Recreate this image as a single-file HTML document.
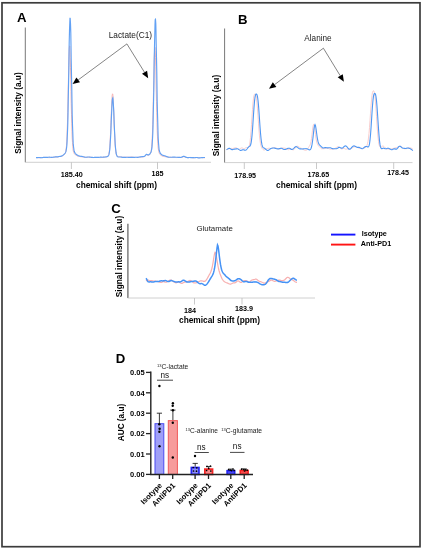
<!DOCTYPE html>
<html lang="en">
<head>
<meta charset="utf-8">
<title>Figure</title>
<style>
html,body{margin:0;padding:0;background:#fff;}
body{width:423px;height:550px;overflow:hidden;}
svg{display:block;font-family:"Liberation Sans",Arial,Helvetica,sans-serif;fill:#000;}
</style>
</head>
<body>
<svg width="423" height="550" viewBox="0 0 423 550">
<rect x="0" y="0" width="423" height="550" fill="#fff"/>
<rect x="2.0" y="2.8" width="418.0" height="543.9" fill="none" stroke="#3c3c3c" stroke-width="1.7"/>
<text x="16.9" y="22.1" text-anchor="start" font-size="13.2" font-weight="bold" >A</text>
<line x1="25.3" y1="27.5" x2="25.3" y2="162.3" stroke="#555" stroke-width="0.8"/>
<line x1="25.3" y1="162.3" x2="211" y2="162.3" stroke="#c4c4c4" stroke-width="0.8"/>
<line x1="71.4" y1="162.3" x2="71.4" y2="169" stroke="#bbb" stroke-width="0.8"/>
<line x1="157.5" y1="162.3" x2="157.5" y2="169" stroke="#bbb" stroke-width="0.8"/>
<path d="M36.0,157.6 L36.2,157.6 L36.5,157.6 L36.8,157.6 L37.0,157.6 L37.2,157.6 L37.5,157.6 L37.8,157.6 L38.0,157.6 L38.2,157.7 L38.5,157.7 L38.8,157.7 L39.0,157.7 L39.2,157.7 L39.5,157.8 L39.8,157.8 L40.0,157.8 L40.2,157.7 L40.5,157.7 L40.8,157.7 L41.0,157.7 L41.2,157.6 L41.5,157.6 L41.8,157.5 L42.0,157.5 L42.2,157.5 L42.5,157.5 L42.8,157.5 L43.0,157.5 L43.2,157.4 L43.5,157.4 L43.8,157.4 L44.0,157.4 L44.2,157.4 L44.5,157.4 L44.8,157.4 L45.0,157.4 L45.2,157.4 L45.5,157.4 L45.8,157.4 L46.0,157.4 L46.2,157.4 L46.5,157.4 L46.8,157.4 L47.0,157.4 L47.2,157.5 L47.5,157.5 L47.8,157.5 L48.0,157.5 L48.2,157.5 L48.5,157.6 L48.8,157.6 L49.0,157.6 L49.2,157.6 L49.5,157.6 L49.8,157.6 L50.0,157.5 L50.2,157.5 L50.5,157.5 L50.8,157.5 L51.0,157.4 L51.2,157.4 L51.5,157.4 L51.8,157.4 L52.0,157.4 L52.2,157.4 L52.5,157.4 L52.8,157.4 L53.0,157.4 L53.2,157.4 L53.5,157.3 L53.8,157.3 L54.0,157.2 L54.2,157.2 L54.5,157.1 L54.8,157.1 L55.0,157.1 L55.2,157.0 L55.5,157.0 L55.8,157.0 L56.0,157.0 L56.2,156.9 L56.5,156.9 L56.8,156.9 L57.0,156.9 L57.2,156.9 L57.5,156.9 L57.8,156.9 L58.0,156.8 L58.2,156.8 L58.5,156.7 L58.8,156.7 L59.0,156.6 L59.2,156.6 L59.5,156.5 L59.8,156.5 L60.0,156.4 L60.2,156.4 L60.5,156.4 L60.8,156.4 L61.0,156.3 L61.2,156.3 L61.5,156.3 L61.8,156.2 L62.0,156.1 L62.2,156.0 L62.5,155.9 L62.8,155.7 L63.0,155.5 L63.2,155.4 L63.5,155.2 L63.8,155.0 L64.0,154.7 L64.2,154.5 L64.5,154.3 L64.8,154.0 L65.0,153.6 L65.2,153.1 L65.5,152.5 L65.8,151.5 L66.0,150.2 L66.2,148.3 L66.5,145.7 L66.8,141.9 L67.0,136.9 L67.2,130.3 L67.5,122.1 L67.8,112.3 L68.0,101.2 L68.2,89.2 L68.5,77.0 L68.8,65.7 L69.0,56.1 L69.2,49.3 L69.5,45.9 L69.8,46.2 L70.0,50.3 L70.2,57.7 L70.5,67.7 L70.8,79.2 L71.0,91.4 L71.2,103.3 L71.5,114.2 L71.8,123.8 L72.0,131.6 L72.2,137.9 L72.5,142.6 L72.8,146.2 L73.0,148.7 L73.2,150.5 L73.5,151.7 L73.8,152.5 L74.0,153.1 L74.2,153.6 L74.5,153.9 L74.8,154.2 L75.0,154.4 L75.2,154.6 L75.5,154.8 L75.8,154.9 L76.0,155.1 L76.2,155.3 L76.5,155.5 L76.8,155.6 L77.0,155.8 L77.2,155.9 L77.5,156.0 L77.8,156.1 L78.0,156.1 L78.2,156.2 L78.5,156.3 L78.8,156.3 L79.0,156.4 L79.2,156.4 L79.5,156.5 L79.8,156.5 L80.0,156.6 L80.2,156.6 L80.5,156.7 L80.8,156.7 L81.0,156.8 L81.2,156.8 L81.5,156.8 L81.8,156.9 L82.0,156.9 L82.2,156.9 L82.5,156.9 L82.8,157.0 L83.0,157.0 L83.2,157.0 L83.5,157.0 L83.8,157.0 L84.0,157.1 L84.2,157.1 L84.5,157.1 L84.8,157.2 L85.0,157.2 L85.2,157.2 L85.5,157.3 L85.8,157.3 L86.0,157.4 L86.2,157.4 L86.5,157.4 L86.8,157.4 L87.0,157.4 L87.2,157.4 L87.5,157.4 L87.8,157.3 L88.0,157.3 L88.2,157.3 L88.5,157.3 L88.8,157.3 L89.0,157.3 L89.2,157.2 L89.5,157.2 L89.8,157.2 L90.0,157.2 L90.2,157.2 L90.5,157.2 L90.8,157.3 L91.0,157.3 L91.2,157.3 L91.5,157.4 L91.8,157.4 L92.0,157.5 L92.2,157.5 L92.5,157.6 L92.8,157.6 L93.0,157.7 L93.2,157.7 L93.5,157.6 L93.8,157.6 L94.0,157.6 L94.2,157.6 L94.5,157.5 L94.8,157.5 L95.0,157.5 L95.2,157.4 L95.5,157.4 L95.8,157.4 L96.0,157.4 L96.2,157.4 L96.5,157.4 L96.8,157.4 L97.0,157.4 L97.2,157.4 L97.5,157.4 L97.8,157.4 L98.0,157.4 L98.2,157.4 L98.5,157.4 L98.8,157.4 L99.0,157.4 L99.2,157.5 L99.5,157.5 L99.8,157.6 L100.0,157.6 L100.2,157.6 L100.5,157.6 L100.8,157.6 L101.0,157.6 L101.2,157.6 L101.5,157.5 L101.8,157.4 L102.0,157.4 L102.2,157.3 L102.5,157.3 L102.8,157.2 L103.0,157.2 L103.2,157.2 L103.5,157.2 L103.8,157.2 L104.0,157.2 L104.2,157.2 L104.5,157.2 L104.8,157.2 L105.0,157.1 L105.2,157.1 L105.5,157.0 L105.8,157.0 L106.0,156.9 L106.2,156.9 L106.5,156.8 L106.8,156.8 L107.0,156.7 L107.2,156.6 L107.5,156.5 L107.8,156.3 L108.0,156.1 L108.2,155.8 L108.5,155.3 L108.8,154.6 L109.0,153.5 L109.2,152.0 L109.5,150.0 L109.8,147.3 L110.0,143.9 L110.2,139.6 L110.5,134.4 L110.8,128.5 L111.0,122.1 L111.2,115.4 L111.5,108.9 L111.8,103.1 L112.0,98.4 L112.2,95.2 L112.5,93.8 L112.8,94.3 L113.0,96.8 L113.2,100.9 L113.5,106.3 L113.8,112.6 L114.0,119.2 L114.2,125.8 L114.5,131.9 L114.8,137.4 L115.0,142.0 L115.2,145.9 L115.5,148.9 L115.8,151.1 L116.0,152.8 L116.2,154.0 L116.5,154.9 L116.8,155.4 L117.0,155.8 L117.2,156.1 L117.5,156.3 L117.8,156.4 L118.0,156.5 L118.2,156.5 L118.5,156.6 L118.8,156.6 L119.0,156.7 L119.2,156.7 L119.5,156.7 L119.8,156.7 L120.0,156.8 L120.2,156.8 L120.5,156.8 L120.8,156.9 L121.0,156.9 L121.2,157.0 L121.5,157.0 L121.8,157.1 L122.0,157.1 L122.2,157.1 L122.5,157.2 L122.8,157.2 L123.0,157.2 L123.2,157.2 L123.5,157.2 L123.8,157.2 L124.0,157.2 L124.2,157.2 L124.5,157.2 L124.8,157.2 L125.0,157.2 L125.2,157.2 L125.5,157.2 L125.8,157.2 L126.0,157.2 L126.2,157.2 L126.5,157.2 L126.8,157.2 L127.0,157.2 L127.2,157.2 L127.5,157.2 L127.8,157.2 L128.0,157.2 L128.2,157.2 L128.5,157.2 L128.8,157.2 L129.0,157.2 L129.2,157.2 L129.5,157.2 L129.8,157.2 L130.0,157.2 L130.2,157.2 L130.5,157.1 L130.8,157.1 L131.0,157.1 L131.2,157.0 L131.5,157.0 L131.8,157.0 L132.0,157.0 L132.2,157.1 L132.5,157.1 L132.8,157.1 L133.0,157.2 L133.2,157.2 L133.5,157.3 L133.8,157.3 L134.0,157.3 L134.2,157.4 L134.5,157.4 L134.8,157.4 L135.0,157.4 L135.2,157.4 L135.5,157.3 L135.8,157.3 L136.0,157.3 L136.2,157.3 L136.5,157.3 L136.8,157.3 L137.0,157.3 L137.2,157.3 L137.5,157.3 L137.8,157.3 L138.0,157.3 L138.2,157.3 L138.5,157.3 L138.8,157.3 L139.0,157.3 L139.2,157.3 L139.5,157.3 L139.8,157.2 L140.0,157.2 L140.2,157.2 L140.5,157.1 L140.8,157.1 L141.0,157.1 L141.2,157.0 L141.5,157.0 L141.8,157.0 L142.0,157.0 L142.2,157.0 L142.5,156.9 L142.8,156.9 L143.0,156.9 L143.2,156.9 L143.5,156.8 L143.8,156.8 L144.0,156.8 L144.2,156.7 L144.5,156.6 L144.8,156.4 L145.0,156.2 L145.2,155.9 L145.5,155.6 L145.8,155.3 L146.0,155.1 L146.2,154.9 L146.5,154.7 L146.8,154.7 L147.0,154.8 L147.2,154.9 L147.5,155.1 L147.8,155.2 L148.0,155.3 L148.2,155.4 L148.5,155.3 L148.8,155.2 L149.0,155.1 L149.2,154.9 L149.5,154.7 L149.8,154.4 L150.0,154.1 L150.2,153.7 L150.5,153.3 L150.8,152.6 L151.0,151.8 L151.2,150.6 L151.5,148.8 L151.8,146.4 L152.0,142.9 L152.2,138.2 L152.5,132.1 L152.8,124.3 L153.0,114.9 L153.2,104.1 L153.5,92.4 L153.8,80.4 L154.0,69.0 L154.2,59.1 L154.5,51.8 L154.8,47.7 L155.0,47.4 L155.2,50.7 L155.5,57.4 L155.8,66.8 L156.0,78.0 L156.2,89.9 L156.5,101.7 L156.8,112.7 L157.0,122.4 L157.2,130.4 L157.5,136.9 L157.8,141.9 L158.0,145.6 L158.2,148.2 L158.5,150.1 L158.8,151.5 L159.0,152.4 L159.2,153.1 L159.5,153.6 L159.8,154.0 L160.0,154.4 L160.2,154.6 L160.5,154.9 L160.8,155.1 L161.0,155.3 L161.2,155.5 L161.5,155.7 L161.8,155.8 L162.0,156.0 L162.2,156.1 L162.5,156.2 L162.8,156.3 L163.0,156.4 L163.2,156.4 L163.5,156.5 L163.8,156.5 L164.0,156.5 L164.2,156.6 L164.5,156.6 L164.8,156.6 L165.0,156.7 L165.2,156.7 L165.5,156.8 L165.8,156.8 L166.0,156.9 L166.2,156.9 L166.5,157.0 L166.8,157.0 L167.0,157.0 L167.2,157.1 L167.5,157.1 L167.8,157.1 L168.0,157.2 L168.2,157.2 L168.5,157.2 L168.8,157.2 L169.0,157.2 L169.2,157.2 L169.5,157.2 L169.8,157.2 L170.0,157.2 L170.2,157.2 L170.5,157.2 L170.8,157.3 L171.0,157.3 L171.2,157.3 L171.5,157.4 L171.8,157.4 L172.0,157.4 L172.2,157.4 L172.5,157.5 L172.8,157.5 L173.0,157.5 L173.2,157.5 L173.5,157.5 L173.8,157.5 L174.0,157.5 L174.2,157.5 L174.5,157.5 L174.8,157.5 L175.0,157.5 L175.2,157.5 L175.5,157.5 L175.8,157.5 L176.0,157.5 L176.2,157.5 L176.5,157.5 L176.8,157.5 L177.0,157.4 L177.2,157.4 L177.5,157.4 L177.8,157.4 L178.0,157.4 L178.2,157.4 L178.5,157.4 L178.8,157.4 L179.0,157.4 L179.2,157.4 L179.5,157.4 L179.8,157.4 L180.0,157.4 L180.2,157.4 L180.5,157.4 L180.8,157.4 L181.0,157.4 L181.2,157.4 L181.5,157.4 L181.8,157.3 L182.0,157.3 L182.2,157.2 L182.5,157.1 L182.8,157.0 L183.0,156.9 L183.2,156.8 L183.5,156.7 L183.8,156.7 L184.0,156.6 L184.2,156.7 L184.5,156.7 L184.8,156.8 L185.0,156.9 L185.2,157.0 L185.5,157.2 L185.8,157.2 L186.0,157.3 L186.2,157.4 L186.5,157.4 L186.8,157.5 L187.0,157.5 L187.2,157.5 L187.5,157.6 L187.8,157.6 L188.0,157.6 L188.2,157.6 L188.5,157.6 L188.8,157.6 L189.0,157.6 L189.2,157.5 L189.5,157.5 L189.8,157.5 L190.0,157.4 L190.2,157.4 L190.5,157.4 L190.8,157.4 L191.0,157.4 L191.2,157.5 L191.5,157.5 L191.8,157.6 L192.0,157.6 L192.2,157.7 L192.5,157.7 L192.8,157.8 L193.0,157.8 L193.2,157.8 L193.5,157.8 L193.8,157.8 L194.0,157.7 L194.2,157.7 L194.5,157.7 L194.8,157.6 L195.0,157.6 L195.2,157.6 L195.5,157.6 L195.8,157.5 L196.0,157.5 L196.2,157.5 L196.5,157.6 L196.8,157.6 L197.0,157.6 L197.2,157.6 L197.5,157.6 L197.8,157.6 L198.0,157.6 L198.2,157.6 L198.5,157.6 L198.8,157.6 L199.0,157.6 L199.2,157.6 L199.5,157.6 L199.8,157.6 L200.0,157.6 L200.2,157.6 L200.5,157.6 L200.8,157.5 L201.0,157.5 L201.2,157.5 L201.5,157.5 L201.8,157.5 L202.0,157.5 L202.2,157.5 L202.5,157.6 L202.8,157.6 L203.0,157.6 L203.2,157.7 L203.5,157.7 L203.8,157.7 L204.0,157.7 L204.2,157.8 L204.5,157.8 L204.8,157.8 L205.0,157.8" fill="none" stroke="#f7b6b6" stroke-width="1"/>
<path d="M36.0,157.6 L36.2,157.6 L36.5,157.6 L36.8,157.6 L37.0,157.6 L37.2,157.6 L37.5,157.6 L37.8,157.6 L38.0,157.6 L38.2,157.5 L38.5,157.5 L38.8,157.5 L39.0,157.5 L39.2,157.5 L39.5,157.5 L39.8,157.5 L40.0,157.6 L40.2,157.6 L40.5,157.6 L40.8,157.7 L41.0,157.7 L41.2,157.7 L41.5,157.7 L41.8,157.6 L42.0,157.6 L42.2,157.6 L42.5,157.6 L42.8,157.5 L43.0,157.5 L43.2,157.5 L43.5,157.4 L43.8,157.4 L44.0,157.4 L44.2,157.4 L44.5,157.3 L44.8,157.3 L45.0,157.3 L45.2,157.3 L45.5,157.3 L45.8,157.4 L46.0,157.4 L46.2,157.4 L46.5,157.4 L46.8,157.3 L47.0,157.3 L47.2,157.3 L47.5,157.3 L47.8,157.3 L48.0,157.2 L48.2,157.2 L48.5,157.2 L48.8,157.2 L49.0,157.1 L49.2,157.1 L49.5,157.1 L49.8,157.2 L50.0,157.2 L50.2,157.2 L50.5,157.2 L50.8,157.2 L51.0,157.3 L51.2,157.3 L51.5,157.3 L51.8,157.3 L52.0,157.3 L52.2,157.3 L52.5,157.2 L52.8,157.2 L53.0,157.2 L53.2,157.2 L53.5,157.1 L53.8,157.1 L54.0,157.1 L54.2,157.1 L54.5,157.0 L54.8,157.0 L55.0,157.0 L55.2,156.9 L55.5,156.9 L55.8,156.9 L56.0,156.9 L56.2,156.9 L56.5,156.9 L56.8,156.9 L57.0,156.8 L57.2,156.8 L57.5,156.8 L57.8,156.8 L58.0,156.7 L58.2,156.7 L58.5,156.6 L58.8,156.6 L59.0,156.5 L59.2,156.5 L59.5,156.5 L59.8,156.4 L60.0,156.4 L60.2,156.4 L60.5,156.3 L60.8,156.3 L61.0,156.2 L61.2,156.1 L61.5,156.1 L61.8,156.0 L62.0,155.8 L62.2,155.7 L62.5,155.6 L62.8,155.4 L63.0,155.2 L63.2,155.1 L63.5,154.9 L63.8,154.6 L64.0,154.4 L64.2,154.2 L64.5,153.9 L64.8,153.6 L65.0,153.3 L65.2,153.0 L65.5,152.5 L65.8,151.9 L66.0,151.1 L66.2,150.0 L66.5,148.3 L66.8,146.0 L67.0,142.6 L67.2,137.9 L67.5,131.6 L67.8,123.4 L68.0,113.1 L68.2,100.8 L68.5,86.9 L68.8,71.8 L69.0,56.7 L69.2,42.6 L69.5,30.7 L69.8,22.2 L70.0,17.9 L70.2,18.4 L70.5,23.6 L70.8,32.8 L71.0,45.3 L71.2,59.7 L71.5,74.9 L71.8,89.8 L72.0,103.5 L72.2,115.3 L72.5,125.2 L72.8,133.0 L73.0,139.0 L73.2,143.4 L73.5,146.5 L73.8,148.7 L74.0,150.3 L74.2,151.3 L74.5,152.1 L74.8,152.6 L75.0,153.1 L75.2,153.4 L75.5,153.7 L75.8,153.9 L76.0,154.2 L76.2,154.4 L76.5,154.6 L76.8,154.8 L77.0,155.0 L77.2,155.1 L77.5,155.3 L77.8,155.4 L78.0,155.5 L78.2,155.7 L78.5,155.8 L78.8,155.9 L79.0,155.9 L79.2,156.0 L79.5,156.1 L79.8,156.1 L80.0,156.1 L80.2,156.2 L80.5,156.2 L80.8,156.3 L81.0,156.3 L81.2,156.3 L81.5,156.4 L81.8,156.4 L82.0,156.4 L82.2,156.5 L82.5,156.5 L82.8,156.6 L83.0,156.7 L83.2,156.7 L83.5,156.8 L83.8,156.9 L84.0,157.0 L84.2,157.0 L84.5,157.1 L84.8,157.1 L85.0,157.2 L85.2,157.2 L85.5,157.2 L85.8,157.2 L86.0,157.2 L86.2,157.2 L86.5,157.2 L86.8,157.1 L87.0,157.1 L87.2,157.1 L87.5,157.0 L87.8,157.0 L88.0,157.0 L88.2,157.0 L88.5,157.0 L88.8,157.0 L89.0,157.0 L89.2,157.0 L89.5,157.1 L89.8,157.1 L90.0,157.1 L90.2,157.2 L90.5,157.2 L90.8,157.2 L91.0,157.2 L91.2,157.3 L91.5,157.3 L91.8,157.3 L92.0,157.4 L92.2,157.4 L92.5,157.4 L92.8,157.5 L93.0,157.5 L93.2,157.5 L93.5,157.5 L93.8,157.5 L94.0,157.5 L94.2,157.4 L94.5,157.4 L94.8,157.4 L95.0,157.4 L95.2,157.4 L95.5,157.4 L95.8,157.4 L96.0,157.4 L96.2,157.4 L96.5,157.3 L96.8,157.3 L97.0,157.3 L97.2,157.3 L97.5,157.3 L97.8,157.3 L98.0,157.3 L98.2,157.3 L98.5,157.3 L98.8,157.3 L99.0,157.3 L99.2,157.2 L99.5,157.2 L99.8,157.2 L100.0,157.2 L100.2,157.1 L100.5,157.1 L100.8,157.1 L101.0,157.1 L101.2,157.1 L101.5,157.1 L101.8,157.2 L102.0,157.2 L102.2,157.2 L102.5,157.2 L102.8,157.2 L103.0,157.2 L103.2,157.1 L103.5,157.1 L103.8,157.1 L104.0,157.1 L104.2,157.1 L104.5,157.0 L104.8,157.0 L105.0,157.0 L105.2,157.0 L105.5,157.0 L105.8,156.9 L106.0,156.9 L106.2,156.9 L106.5,156.8 L106.8,156.7 L107.0,156.7 L107.2,156.6 L107.5,156.5 L107.8,156.3 L108.0,156.2 L108.2,155.9 L108.5,155.5 L108.8,155.0 L109.0,154.2 L109.2,153.1 L109.5,151.5 L109.8,149.4 L110.0,146.6 L110.2,143.0 L110.5,138.6 L110.8,133.5 L111.0,127.8 L111.2,121.6 L111.5,115.4 L111.8,109.6 L112.0,104.6 L112.2,100.7 L112.5,98.5 L112.8,98.0 L113.0,99.3 L113.2,102.3 L113.5,106.7 L113.8,112.1 L114.0,118.1 L114.2,124.3 L114.5,130.3 L114.8,135.7 L115.0,140.5 L115.2,144.5 L115.5,147.7 L115.8,150.2 L116.0,152.2 L116.2,153.6 L116.5,154.6 L116.8,155.4 L117.0,155.9 L117.2,156.3 L117.5,156.6 L117.8,156.8 L118.0,156.9 L118.2,157.0 L118.5,157.0 L118.8,157.0 L119.0,157.0 L119.2,157.0 L119.5,157.0 L119.8,157.0 L120.0,157.0 L120.2,157.0 L120.5,157.0 L120.8,157.0 L121.0,157.0 L121.2,157.1 L121.5,157.1 L121.8,157.1 L122.0,157.2 L122.2,157.2 L122.5,157.3 L122.8,157.3 L123.0,157.3 L123.2,157.3 L123.5,157.4 L123.8,157.4 L124.0,157.4 L124.2,157.4 L124.5,157.4 L124.8,157.4 L125.0,157.4 L125.2,157.3 L125.5,157.3 L125.8,157.3 L126.0,157.3 L126.2,157.2 L126.5,157.2 L126.8,157.2 L127.0,157.2 L127.2,157.2 L127.5,157.2 L127.8,157.2 L128.0,157.3 L128.2,157.3 L128.5,157.3 L128.8,157.4 L129.0,157.4 L129.2,157.4 L129.5,157.4 L129.8,157.4 L130.0,157.4 L130.2,157.4 L130.5,157.4 L130.8,157.4 L131.0,157.4 L131.2,157.4 L131.5,157.4 L131.8,157.4 L132.0,157.3 L132.2,157.3 L132.5,157.3 L132.8,157.3 L133.0,157.3 L133.2,157.3 L133.5,157.3 L133.8,157.3 L134.0,157.3 L134.2,157.3 L134.5,157.3 L134.8,157.3 L135.0,157.2 L135.2,157.2 L135.5,157.2 L135.8,157.2 L136.0,157.2 L136.2,157.2 L136.5,157.2 L136.8,157.2 L137.0,157.3 L137.2,157.3 L137.5,157.3 L137.8,157.3 L138.0,157.3 L138.2,157.2 L138.5,157.2 L138.8,157.1 L139.0,157.1 L139.2,157.0 L139.5,157.0 L139.8,157.0 L140.0,156.9 L140.2,156.9 L140.5,156.8 L140.8,156.8 L141.0,156.8 L141.2,156.7 L141.5,156.7 L141.8,156.6 L142.0,156.6 L142.2,156.6 L142.5,156.6 L142.8,156.6 L143.0,156.6 L143.2,156.6 L143.5,156.5 L143.8,156.5 L144.0,156.5 L144.2,156.4 L144.5,156.3 L144.8,156.1 L145.0,155.9 L145.2,155.6 L145.5,155.3 L145.8,155.0 L146.0,154.7 L146.2,154.5 L146.5,154.4 L146.8,154.4 L147.0,154.5 L147.2,154.6 L147.5,154.8 L147.8,154.9 L148.0,155.0 L148.2,155.0 L148.5,154.9 L148.8,154.8 L149.0,154.7 L149.2,154.5 L149.5,154.2 L149.8,154.0 L150.0,153.7 L150.2,153.3 L150.5,153.0 L150.8,152.5 L151.0,152.0 L151.2,151.3 L151.5,150.2 L151.8,148.7 L152.0,146.6 L152.2,143.5 L152.5,139.2 L152.8,133.3 L153.0,125.6 L153.2,115.8 L153.5,104.1 L153.8,90.5 L154.0,75.8 L154.2,60.7 L154.5,46.4 L154.8,34.1 L155.0,24.9 L155.2,19.8 L155.5,19.4 L155.8,23.6 L156.0,32.1 L156.2,43.9 L156.5,57.9 L156.8,73.0 L157.0,87.9 L157.2,101.7 L157.5,113.8 L157.8,124.0 L158.0,132.1 L158.2,138.3 L158.5,142.9 L158.8,146.3 L159.0,148.6 L159.2,150.2 L159.5,151.3 L159.8,152.1 L160.0,152.6 L160.2,153.1 L160.5,153.5 L160.8,153.8 L161.0,154.0 L161.2,154.3 L161.5,154.5 L161.8,154.7 L162.0,154.9 L162.2,155.0 L162.5,155.2 L162.8,155.3 L163.0,155.4 L163.2,155.4 L163.5,155.5 L163.8,155.6 L164.0,155.6 L164.2,155.7 L164.5,155.8 L164.8,155.9 L165.0,155.9 L165.2,156.0 L165.5,156.1 L165.8,156.2 L166.0,156.3 L166.2,156.4 L166.5,156.5 L166.8,156.6 L167.0,156.7 L167.2,156.8 L167.5,156.9 L167.8,156.9 L168.0,157.0 L168.2,157.1 L168.5,157.1 L168.8,157.2 L169.0,157.2 L169.2,157.2 L169.5,157.2 L169.8,157.2 L170.0,157.2 L170.2,157.2 L170.5,157.2 L170.8,157.2 L171.0,157.2 L171.2,157.2 L171.5,157.2 L171.8,157.2 L172.0,157.2 L172.2,157.2 L172.5,157.1 L172.8,157.1 L173.0,157.1 L173.2,157.1 L173.5,157.1 L173.8,157.0 L174.0,157.1 L174.2,157.1 L174.5,157.1 L174.8,157.1 L175.0,157.1 L175.2,157.1 L175.5,157.2 L175.8,157.2 L176.0,157.2 L176.2,157.2 L176.5,157.2 L176.8,157.2 L177.0,157.2 L177.2,157.2 L177.5,157.2 L177.8,157.3 L178.0,157.3 L178.2,157.3 L178.5,157.3 L178.8,157.3 L179.0,157.4 L179.2,157.4 L179.5,157.4 L179.8,157.4 L180.0,157.5 L180.2,157.5 L180.5,157.5 L180.8,157.4 L181.0,157.4 L181.2,157.3 L181.5,157.2 L181.8,157.2 L182.0,157.0 L182.2,156.9 L182.5,156.8 L182.8,156.6 L183.0,156.5 L183.2,156.4 L183.5,156.4 L183.8,156.4 L184.0,156.4 L184.2,156.4 L184.5,156.5 L184.8,156.6 L185.0,156.8 L185.2,156.9 L185.5,157.0 L185.8,157.1 L186.0,157.3 L186.2,157.3 L186.5,157.4 L186.8,157.5 L187.0,157.5 L187.2,157.6 L187.5,157.6 L187.8,157.6 L188.0,157.6 L188.2,157.6 L188.5,157.6 L188.8,157.6 L189.0,157.5 L189.2,157.5 L189.5,157.5 L189.8,157.5 L190.0,157.5 L190.2,157.5 L190.5,157.6 L190.8,157.6 L191.0,157.6 L191.2,157.6 L191.5,157.6 L191.8,157.6 L192.0,157.6 L192.2,157.6 L192.5,157.6 L192.8,157.6 L193.0,157.6 L193.2,157.6 L193.5,157.6 L193.8,157.6 L194.0,157.7 L194.2,157.7 L194.5,157.7 L194.8,157.7 L195.0,157.6 L195.2,157.6 L195.5,157.6 L195.8,157.5 L196.0,157.5 L196.2,157.5 L196.5,157.5 L196.8,157.5 L197.0,157.5 L197.2,157.5 L197.5,157.6 L197.8,157.7 L198.0,157.7 L198.2,157.8 L198.5,157.8 L198.8,157.8 L199.0,157.8 L199.2,157.8 L199.5,157.8 L199.8,157.8 L200.0,157.8 L200.2,157.7 L200.5,157.7 L200.8,157.7 L201.0,157.7 L201.2,157.7 L201.5,157.6 L201.8,157.6 L202.0,157.6 L202.2,157.6 L202.5,157.6 L202.8,157.6 L203.0,157.6 L203.2,157.5 L203.5,157.5 L203.8,157.5 L204.0,157.5 L204.2,157.5 L204.5,157.5 L204.8,157.5 L205.0,157.5" fill="none" stroke="#62a1f4" stroke-width="1.15"/>
<text transform="translate(20.8,113) rotate(-90)" text-anchor="middle" font-size="8.33" font-weight="bold">Signal intensity (a.u)</text>
<text x="71.8" y="177.2" text-anchor="middle" font-size="7.2" font-weight="bold" >185.40</text>
<text x="157.5" y="176.2" text-anchor="middle" font-size="7.2" font-weight="bold" >185</text>
<text x="116.5" y="188" text-anchor="middle" font-size="8.33" font-weight="bold" >chemical shift (ppm)</text>
<text x="130.4" y="37.5" text-anchor="middle" font-size="8.3" font-weight="normal" fill="#222">Lactate(C1)</text>
<line x1="126.9" y1="43.9" x2="78.2" y2="79.9" stroke="#333" stroke-width="0.6"/><polygon points="72.6,84.1 76.4,77.5 80.0,82.3" fill="#000"/>
<line x1="126.9" y1="43.9" x2="144.5" y2="72.3" stroke="#333" stroke-width="0.6"/><polygon points="148.2,78.2 142.0,73.8 147.1,70.7" fill="#000"/>
<text x="238.0" y="24.2" text-anchor="start" font-size="13.2" font-weight="bold" >B</text>
<line x1="224.6" y1="28.5" x2="224.6" y2="162.6" stroke="#555" stroke-width="0.8"/>
<line x1="224.6" y1="162.6" x2="412.5" y2="162.6" stroke="#c4c4c4" stroke-width="0.8"/>
<line x1="244.3" y1="162.6" x2="244.3" y2="169" stroke="#bbb" stroke-width="0.8"/>
<line x1="316.5" y1="162.6" x2="316.5" y2="169" stroke="#bbb" stroke-width="0.8"/>
<line x1="393.7" y1="162.6" x2="393.7" y2="169" stroke="#bbb" stroke-width="0.8"/>
<path d="M226.5,149.5 L227.0,149.3 L227.5,149.1 L228.0,148.9 L228.5,148.9 L229.0,148.8 L229.5,148.7 L230.0,148.6 L230.5,148.5 L231.0,148.4 L231.5,148.4 L232.0,148.5 L232.5,148.5 L233.0,148.4 L233.5,148.3 L234.0,148.2 L234.5,148.0 L235.0,147.8 L235.5,147.7 L236.0,147.7 L236.5,147.9 L237.0,148.3 L237.5,148.8 L238.0,149.3 L238.5,149.5 L239.0,149.4 L239.5,149.2 L240.0,148.8 L240.5,148.4 L241.0,148.0 L241.5,147.9 L242.0,147.9 L242.5,148.1 L243.0,148.3 L243.5,148.6 L244.0,148.7 L244.5,148.6 L245.0,148.3 L245.5,147.9 L246.0,147.7 L246.5,147.5 L247.0,147.5 L247.5,147.5 L248.0,147.6 L248.5,147.3 L249.0,146.6 L249.5,145.0 L250.0,142.1 L250.5,137.7 L251.0,131.8 L251.5,124.6 L252.0,116.9 L252.5,109.5 L253.0,103.1 L253.5,98.3 L254.0,95.4 L254.5,94.2 L255.0,94.0 L255.5,94.3 L256.0,95.6 L256.5,98.4 L257.0,102.8 L257.5,108.8 L258.0,115.8 L258.5,123.2 L259.0,130.1 L259.5,135.9 L260.0,140.4 L260.5,143.6 L261.0,145.8 L261.5,147.2 L262.0,148.3 L262.5,149.0 L263.0,149.5 L263.5,149.8 L264.0,149.9 L264.5,149.9 L265.0,149.7 L265.5,149.4 L266.0,149.1 L266.5,148.8 L267.0,148.6 L267.5,148.5 L268.0,148.4 L268.5,148.3 L269.0,148.2 L269.5,148.3 L270.0,148.4 L270.5,148.5 L271.0,148.5 L271.5,148.5 L272.0,148.4 L272.5,148.2 L273.0,148.0 L273.5,147.8 L274.0,147.7 L274.5,147.7 L275.0,147.8 L275.5,147.9 L276.0,148.0 L276.5,148.1 L277.0,148.3 L277.5,148.5 L278.0,148.7 L278.5,148.8 L279.0,148.9 L279.5,148.9 L280.0,148.9 L280.5,148.8 L281.0,148.5 L281.5,148.2 L282.0,148.0 L282.5,147.9 L283.0,148.0 L283.5,148.0 L284.0,148.1 L284.5,148.1 L285.0,148.2 L285.5,148.3 L286.0,148.5 L286.5,148.8 L287.0,149.1 L287.5,149.4 L288.0,149.6 L288.5,149.7 L289.0,149.6 L289.5,149.4 L290.0,149.1 L290.5,149.0 L291.0,149.1 L291.5,149.3 L292.0,149.5 L292.5,149.7 L293.0,149.8 L293.5,149.8 L294.0,149.5 L294.5,148.9 L295.0,148.2 L295.5,147.4 L296.0,146.8 L296.5,146.4 L297.0,146.2 L297.5,146.2 L298.0,146.4 L298.5,146.6 L299.0,147.0 L299.5,147.3 L300.0,147.7 L300.5,148.0 L301.0,148.2 L301.5,148.4 L302.0,148.8 L302.5,149.1 L303.0,149.4 L303.5,149.6 L304.0,149.9 L304.5,150.1 L305.0,150.3 L305.5,150.4 L306.0,150.4 L306.5,150.1 L307.0,149.7 L307.5,149.0 L308.0,148.3 L308.5,147.5 L309.0,146.7 L309.5,146.0 L310.0,145.1 L310.5,143.8 L311.0,141.7 L311.5,138.6 L312.0,134.6 L312.5,130.2 L313.0,126.4 L313.5,124.4 L314.0,124.5 L314.5,126.8 L315.0,130.4 L315.5,134.5 L316.0,138.2 L316.5,141.0 L317.0,142.9 L317.5,144.2 L318.0,145.1 L318.5,145.8 L319.0,146.4 L319.5,146.9 L320.0,147.4 L320.5,147.9 L321.0,148.3 L321.5,148.7 L322.0,148.8 L322.5,148.7 L323.0,148.7 L323.5,148.7 L324.0,148.7 L324.5,148.6 L325.0,148.6 L325.5,148.5 L326.0,148.5 L326.5,148.4 L327.0,148.4 L327.5,148.4 L328.0,148.4 L328.5,148.5 L329.0,148.7 L329.5,148.9 L330.0,149.1 L330.5,149.1 L331.0,149.1 L331.5,149.1 L332.0,149.1 L332.5,149.2 L333.0,149.2 L333.5,149.1 L334.0,148.9 L334.5,148.6 L335.0,148.3 L335.5,148.1 L336.0,147.7 L336.5,147.4 L337.0,147.1 L337.5,146.8 L338.0,146.8 L338.5,146.9 L339.0,147.1 L339.5,147.5 L340.0,147.9 L340.5,148.3 L341.0,148.7 L341.5,148.9 L342.0,148.9 L342.5,148.7 L343.0,148.5 L343.5,148.4 L344.0,148.4 L344.5,148.6 L345.0,148.8 L345.5,149.1 L346.0,149.2 L346.5,149.1 L347.0,149.0 L347.5,148.9 L348.0,148.8 L348.5,148.7 L349.0,148.6 L349.5,148.6 L350.0,148.6 L350.5,148.6 L351.0,148.6 L351.5,148.4 L352.0,148.1 L352.5,147.7 L353.0,147.4 L353.5,147.1 L354.0,146.9 L354.5,146.8 L355.0,146.7 L355.5,146.7 L356.0,146.8 L356.5,147.0 L357.0,147.3 L357.5,147.5 L358.0,147.8 L358.5,148.0 L359.0,148.2 L359.5,148.3 L360.0,148.4 L360.5,148.4 L361.0,148.3 L361.5,148.3 L362.0,148.4 L362.5,148.4 L363.0,148.4 L363.5,148.3 L364.0,148.2 L364.5,148.0 L365.0,147.8 L365.5,147.5 L366.0,147.0 L366.5,146.3 L367.0,145.3 L367.5,143.8 L368.0,141.5 L368.5,138.1 L369.0,133.5 L369.5,127.6 L370.0,120.6 L370.5,113.2 L371.0,106.1 L371.5,99.9 L372.0,95.3 L372.5,92.4 L373.0,91.1 L373.5,90.8 L374.0,91.2 L374.5,93.0 L375.0,96.5 L375.5,101.9 L376.0,108.7 L376.5,116.3 L377.0,124.0 L377.5,131.1 L378.0,137.0 L378.5,141.4 L379.0,144.3 L379.5,146.1 L380.0,146.9 L380.5,147.2 L381.0,147.0 L381.5,146.8 L382.0,146.4 L382.5,146.1 L383.0,146.0 L383.5,146.2 L384.0,146.5 L384.5,147.0 L385.0,147.5 L385.5,148.0 L386.0,148.4 L386.5,148.8 L387.0,148.9 L387.5,149.0 L388.0,149.1 L388.5,149.1 L389.0,149.1 L389.5,149.1 L390.0,149.1 L390.5,149.0 L391.0,148.9 L391.5,148.8 L392.0,148.7 L392.5,148.6 L393.0,148.6 L393.5,148.4 L394.0,148.2 L394.5,148.1 L395.0,147.9 L395.5,147.7 L396.0,147.6 L396.5,147.5 L397.0,147.4 L397.5,147.3 L398.0,147.1 L398.5,146.9 L399.0,146.6 L399.5,146.3 L400.0,146.1 L400.5,146.2 L401.0,146.5 L401.5,146.9 L402.0,147.3 L402.5,147.8 L403.0,148.2 L403.5,148.4 L404.0,148.6 L404.5,148.7 L405.0,148.7 L405.5,148.7 L406.0,148.7 L406.5,148.6 L407.0,148.4 L407.5,148.3 L408.0,148.1 L408.5,147.9 L409.0,147.8 L409.5,147.7 L410.0,147.7 L410.5,147.9 L411.0,148.1 L411.5,148.3 L412.0,148.7 L412.5,149.0 L413.0,149.4" fill="none" stroke="#f9cccc" stroke-width="1"/>
<path d="M226.5,149.7 L227.0,149.4 L227.5,149.1 L228.0,148.7 L228.5,148.5 L229.0,148.4 L229.5,148.4 L230.0,148.6 L230.5,148.9 L231.0,149.2 L231.5,149.5 L232.0,149.6 L232.5,149.6 L233.0,149.5 L233.5,149.3 L234.0,149.2 L234.5,149.1 L235.0,149.1 L235.5,149.0 L236.0,148.9 L236.5,148.9 L237.0,148.8 L237.5,148.8 L238.0,148.9 L238.5,149.2 L239.0,149.6 L239.5,149.9 L240.0,150.2 L240.5,150.4 L241.0,150.4 L241.5,150.3 L242.0,150.1 L242.5,149.9 L243.0,149.8 L243.5,149.8 L244.0,149.9 L244.5,150.1 L245.0,150.2 L245.5,150.2 L246.0,150.0 L246.5,149.6 L247.0,149.0 L247.5,148.3 L248.0,147.6 L248.5,147.1 L249.0,146.6 L249.5,146.3 L250.0,146.0 L250.5,145.2 L251.0,143.5 L251.5,140.4 L252.0,135.8 L252.5,129.6 L253.0,122.2 L253.5,114.6 L254.0,107.4 L254.5,101.5 L255.0,97.3 L255.5,94.9 L256.0,94.1 L256.5,94.1 L257.0,94.7 L257.5,96.6 L258.0,100.2 L258.5,105.4 L259.0,112.0 L259.5,119.3 L260.0,126.5 L260.5,133.0 L261.0,138.3 L261.5,142.2 L262.0,144.9 L262.5,146.5 L263.0,147.4 L263.5,147.8 L264.0,148.0 L264.5,148.3 L265.0,148.6 L265.5,149.0 L266.0,149.5 L266.5,149.9 L267.0,150.3 L267.5,150.5 L268.0,150.4 L268.5,150.3 L269.0,149.9 L269.5,149.6 L270.0,149.1 L270.5,148.8 L271.0,148.5 L271.5,148.3 L272.0,148.2 L272.5,148.0 L273.0,148.0 L273.5,148.0 L274.0,148.0 L274.5,148.1 L275.0,148.3 L275.5,148.4 L276.0,148.5 L276.5,148.7 L277.0,148.8 L277.5,148.9 L278.0,148.9 L278.5,148.9 L279.0,148.7 L279.5,148.6 L280.0,148.5 L280.5,148.4 L281.0,148.3 L281.5,148.3 L282.0,148.5 L282.5,148.7 L283.0,149.0 L283.5,149.2 L284.0,149.4 L284.5,149.5 L285.0,149.5 L285.5,149.4 L286.0,149.3 L286.5,149.1 L287.0,148.8 L287.5,148.6 L288.0,148.4 L288.5,148.3 L289.0,148.3 L289.5,148.3 L290.0,148.5 L290.5,148.8 L291.0,149.2 L291.5,149.4 L292.0,149.4 L292.5,149.3 L293.0,149.0 L293.5,148.6 L294.0,148.1 L294.5,147.5 L295.0,147.1 L295.5,146.7 L296.0,146.6 L296.5,146.7 L297.0,147.0 L297.5,147.4 L298.0,147.7 L298.5,148.1 L299.0,148.5 L299.5,148.7 L300.0,148.9 L300.5,148.9 L301.0,148.9 L301.5,149.0 L302.0,149.0 L302.5,149.0 L303.0,148.9 L303.5,148.9 L304.0,148.8 L304.5,148.7 L305.0,148.7 L305.5,148.7 L306.0,148.6 L306.5,148.7 L307.0,148.8 L307.5,149.0 L308.0,149.2 L308.5,149.5 L309.0,149.7 L309.5,149.9 L310.0,149.8 L310.5,149.4 L311.0,148.5 L311.5,147.0 L312.0,144.7 L312.5,141.5 L313.0,137.5 L313.5,133.0 L314.0,128.7 L314.5,125.7 L315.0,124.6 L315.5,125.7 L316.0,128.6 L316.5,132.3 L317.0,136.0 L317.5,139.1 L318.0,141.4 L318.5,143.0 L319.0,144.1 L319.5,144.8 L320.0,145.3 L320.5,145.8 L321.0,146.3 L321.5,146.8 L322.0,147.3 L322.5,147.7 L323.0,148.0 L323.5,148.0 L324.0,147.9 L324.5,147.8 L325.0,147.6 L325.5,147.6 L326.0,147.6 L326.5,147.7 L327.0,147.8 L327.5,147.9 L328.0,147.9 L328.5,147.8 L329.0,147.7 L329.5,147.7 L330.0,147.7 L330.5,147.8 L331.0,148.0 L331.5,148.3 L332.0,148.5 L332.5,148.6 L333.0,148.7 L333.5,148.7 L334.0,148.7 L334.5,148.7 L335.0,148.8 L335.5,148.8 L336.0,148.7 L336.5,148.7 L337.0,148.6 L337.5,148.3 L338.0,148.0 L338.5,147.6 L339.0,147.4 L339.5,147.3 L340.0,147.4 L340.5,147.7 L341.0,147.9 L341.5,148.1 L342.0,148.1 L342.5,148.0 L343.0,147.7 L343.5,147.2 L344.0,146.7 L344.5,146.3 L345.0,146.0 L345.5,145.9 L346.0,146.0 L346.5,146.4 L347.0,146.9 L347.5,147.5 L348.0,148.2 L348.5,148.8 L349.0,149.2 L349.5,149.3 L350.0,149.2 L350.5,148.8 L351.0,148.3 L351.5,147.7 L352.0,147.1 L352.5,146.6 L353.0,146.2 L353.5,146.0 L354.0,145.9 L354.5,146.0 L355.0,146.2 L355.5,146.5 L356.0,146.8 L356.5,147.0 L357.0,147.2 L357.5,147.4 L358.0,147.4 L358.5,147.4 L359.0,147.4 L359.5,147.5 L360.0,147.8 L360.5,148.0 L361.0,148.3 L361.5,148.6 L362.0,148.7 L362.5,148.7 L363.0,148.4 L363.5,148.0 L364.0,147.6 L364.5,147.2 L365.0,146.8 L365.5,146.6 L366.0,146.5 L366.5,146.5 L367.0,146.6 L367.5,146.9 L368.0,147.0 L368.5,146.8 L369.0,145.9 L369.5,143.8 L370.0,140.2 L370.5,135.0 L371.0,128.3 L371.5,120.6 L372.0,112.8 L372.5,105.7 L373.0,100.0 L373.5,96.1 L374.0,94.1 L374.5,93.5 L375.0,93.5 L375.5,94.3 L376.0,96.6 L376.5,100.6 L377.0,106.4 L377.5,113.5 L378.0,121.2 L378.5,128.6 L379.0,135.3 L379.5,140.6 L380.0,144.4 L380.5,146.9 L381.0,148.2 L381.5,148.6 L382.0,148.6 L382.5,148.4 L383.0,148.2 L383.5,148.1 L384.0,148.2 L384.5,148.4 L385.0,148.6 L385.5,148.7 L386.0,148.8 L386.5,148.7 L387.0,148.5 L387.5,148.3 L388.0,148.2 L388.5,148.2 L389.0,148.5 L389.5,148.8 L390.0,149.1 L390.5,149.3 L391.0,149.6 L391.5,149.7 L392.0,149.7 L392.5,149.5 L393.0,149.2 L393.5,149.0 L394.0,148.9 L394.5,148.9 L395.0,148.9 L395.5,149.1 L396.0,149.1 L396.5,149.1 L397.0,148.8 L397.5,148.3 L398.0,147.6 L398.5,146.9 L399.0,146.4 L399.5,146.2 L400.0,146.2 L400.5,146.5 L401.0,146.9 L401.5,147.3 L402.0,147.7 L402.5,148.0 L403.0,148.2 L403.5,148.3 L404.0,148.3 L404.5,148.4 L405.0,148.5 L405.5,148.5 L406.0,148.4 L406.5,148.2 L407.0,148.1 L407.5,148.0 L408.0,148.0 L408.5,148.1 L409.0,148.2 L409.5,148.4 L410.0,148.6 L410.5,148.9 L411.0,149.2 L411.5,149.5 L412.0,149.9 L412.5,150.2 L413.0,150.4" fill="none" stroke="#4f97f3" stroke-width="1.1"/>
<text transform="translate(219.2,115.5) rotate(-90)" text-anchor="middle" font-size="8.33" font-weight="bold">Signal intensity (a.u)</text>
<text x="245.2" y="177.8" text-anchor="middle" font-size="7.1" font-weight="bold" >178.95</text>
<text x="318.3" y="177" text-anchor="middle" font-size="7.1" font-weight="bold" >178.65</text>
<text x="398" y="175" text-anchor="middle" font-size="7.1" font-weight="bold" >178.45</text>
<text x="316.5" y="188.4" text-anchor="middle" font-size="8.33" font-weight="bold" >chemical shift (ppm)</text>
<text x="318" y="40.7" text-anchor="middle" font-size="8.2" font-weight="normal" fill="#222">Alanine</text>
<line x1="323.4" y1="48.2" x2="274.6" y2="84.6" stroke="#333" stroke-width="0.6"/><polygon points="269.0,88.8 272.8,82.2 276.4,87.0" fill="#000"/>
<line x1="323.4" y1="48.2" x2="340.2" y2="75.7" stroke="#333" stroke-width="0.6"/><polygon points="343.9,81.7 337.7,77.3 342.8,74.2" fill="#000"/>
<text x="111.3" y="212.6" text-anchor="start" font-size="13.2" font-weight="bold" >C</text>
<line x1="127.9" y1="223.7" x2="127.9" y2="298" stroke="#6a6a6a" stroke-width="1.3"/>
<line x1="127.7" y1="298" x2="315" y2="298" stroke="#c4c4c4" stroke-width="0.8"/>
<line x1="194.5" y1="298" x2="194.5" y2="304.5" stroke="#bbb" stroke-width="0.8"/>
<line x1="242" y1="298" x2="242" y2="304.5" stroke="#bbb" stroke-width="0.8"/>
<path d="M146.0,281.0 L146.5,280.6 L147.0,280.2 L147.5,280.1 L148.0,280.1 L148.5,280.2 L149.0,280.4 L149.5,280.5 L150.0,280.7 L150.5,280.7 L151.0,280.7 L151.5,280.7 L152.0,280.7 L152.5,280.8 L153.0,280.9 L153.5,281.0 L154.0,281.1 L154.5,281.1 L155.0,281.2 L155.5,281.2 L156.0,281.3 L156.5,281.3 L157.0,281.3 L157.5,281.4 L158.0,281.6 L158.5,281.8 L159.0,282.0 L159.5,282.2 L160.0,282.3 L160.5,282.4 L161.0,282.3 L161.5,282.3 L162.0,282.1 L162.5,281.9 L163.0,281.7 L163.5,281.7 L164.0,281.7 L164.5,281.9 L165.0,282.1 L165.5,282.1 L166.0,282.1 L166.5,282.1 L167.0,281.9 L167.5,281.6 L168.0,281.3 L168.5,280.9 L169.0,280.6 L169.5,280.3 L170.0,280.1 L170.5,280.1 L171.0,280.2 L171.5,280.4 L172.0,280.7 L172.5,280.9 L173.0,281.2 L173.5,281.5 L174.0,281.9 L174.5,282.2 L175.0,282.5 L175.5,282.7 L176.0,282.8 L176.5,282.7 L177.0,282.4 L177.5,282.1 L178.0,281.9 L178.5,281.8 L179.0,282.0 L179.5,282.3 L180.0,282.7 L180.5,283.0 L181.0,283.3 L181.5,283.4 L182.0,283.3 L182.5,283.1 L183.0,282.8 L183.5,282.6 L184.0,282.4 L184.5,282.2 L185.0,282.1 L185.5,282.0 L186.0,281.9 L186.5,281.9 L187.0,281.8 L187.5,281.6 L188.0,281.4 L188.5,281.1 L189.0,280.8 L189.5,280.5 L190.0,280.4 L190.5,280.5 L191.0,280.7 L191.5,281.0 L192.0,281.5 L192.5,281.9 L193.0,282.3 L193.5,282.6 L194.0,282.8 L194.5,282.9 L195.0,283.0 L195.5,282.9 L196.0,282.8 L196.5,282.7 L197.0,282.5 L197.5,282.3 L198.0,282.0 L198.5,281.8 L199.0,281.5 L199.5,281.2 L200.0,281.0 L200.5,280.9 L201.0,280.9 L201.5,280.8 L202.0,280.9 L202.5,281.0 L203.0,281.1 L203.5,281.3 L204.0,281.3 L204.5,281.3 L205.0,281.1 L205.5,280.9 L206.0,280.4 L206.5,279.7 L207.0,278.9 L207.5,278.0 L208.0,277.1 L208.5,276.2 L209.0,275.3 L209.5,274.4 L210.0,273.5 L210.5,272.5 L211.0,271.3 L211.5,269.8 L212.0,268.0 L212.5,265.6 L213.0,262.8 L213.5,259.6 L214.0,256.5 L214.5,253.9 L215.0,252.3 L215.5,252.4 L216.0,254.2 L216.5,256.9 L217.0,260.0 L217.5,263.2 L218.0,266.0 L218.5,268.5 L219.0,270.5 L219.5,272.2 L220.0,273.7 L220.5,275.0 L221.0,276.3 L221.5,277.6 L222.0,278.6 L222.5,279.5 L223.0,280.2 L223.5,280.8 L224.0,281.3 L224.5,281.7 L225.0,282.0 L225.5,282.2 L226.0,282.5 L226.5,282.7 L227.0,282.9 L227.5,283.1 L228.0,283.3 L228.5,283.6 L229.0,283.8 L229.5,284.0 L230.0,284.1 L230.5,284.1 L231.0,284.0 L231.5,283.7 L232.0,283.5 L232.5,283.2 L233.0,283.0 L233.5,282.9 L234.0,282.9 L234.5,282.9 L235.0,282.8 L235.5,282.6 L236.0,282.2 L236.5,281.8 L237.0,281.3 L237.5,281.0 L238.0,280.9 L238.5,281.0 L239.0,281.3 L239.5,281.7 L240.0,282.1 L240.5,282.4 L241.0,282.5 L241.5,282.4 L242.0,282.0 L242.5,281.6 L243.0,281.2 L243.5,280.9 L244.0,280.6 L244.5,280.5 L245.0,280.5 L245.5,280.5 L246.0,280.6 L246.5,280.8 L247.0,281.1 L247.5,281.5 L248.0,281.9 L248.5,282.1 L249.0,282.2 L249.5,282.0 L250.0,281.6 L250.5,281.1 L251.0,280.6 L251.5,280.2 L252.0,280.0 L252.5,279.8 L253.0,279.8 L253.5,279.7 L254.0,279.7 L254.5,279.5 L255.0,279.3 L255.5,279.0 L256.0,279.0 L256.5,279.2 L257.0,279.5 L257.5,280.0 L258.0,280.4 L258.5,280.8 L259.0,281.1 L259.5,281.3 L260.0,281.5 L260.5,281.6 L261.0,281.8 L261.5,282.0 L262.0,282.2 L262.5,282.5 L263.0,282.7 L263.5,282.9 L264.0,283.1 L264.5,283.1 L265.0,283.1 L265.5,282.9 L266.0,282.7 L266.5,282.4 L267.0,282.1 L267.5,281.8 L268.0,281.6 L268.5,281.4 L269.0,281.2 L269.5,281.0 L270.0,280.6 L270.5,280.4 L271.0,280.2 L271.5,280.1 L272.0,280.2 L272.5,280.4 L273.0,280.7 L273.5,281.0 L274.0,281.2 L274.5,281.3 L275.0,281.3 L275.5,281.2 L276.0,281.0 L276.5,280.9 L277.0,280.7 L277.5,280.6 L278.0,280.4 L278.5,280.2 L279.0,280.1 L279.5,280.1 L280.0,280.2 L280.5,280.3 L281.0,280.5 L281.5,280.6 L282.0,280.6 L282.5,280.6 L283.0,280.6 L283.5,280.4 L284.0,280.3 L284.5,280.0 L285.0,279.5 L285.5,279.0 L286.0,278.5 L286.5,278.0 L287.0,277.6 L287.5,277.3 L288.0,277.3 L288.5,277.5 L289.0,277.8 L289.5,278.3 L290.0,278.7 L290.5,279.1 L291.0,279.3 L291.5,279.5 L292.0,279.7 L292.5,279.9 L293.0,280.2 L293.5,280.6 L294.0,280.9 L294.5,281.3 L295.0,281.7 L295.5,282.0 L296.0,282.2 L296.5,282.3 L297.0,282.2" fill="none" stroke="#f7b0b0" stroke-width="1.2"/>
<path d="M146.0,278.3 L146.5,278.9 L147.0,279.8 L147.5,280.8 L148.0,281.6 L148.5,281.9 L149.0,282.0 L149.5,281.9 L150.0,281.8 L150.5,281.7 L151.0,281.8 L151.5,281.9 L152.0,282.0 L152.5,282.1 L153.0,282.1 L153.5,282.1 L154.0,281.9 L154.5,281.7 L155.0,281.6 L155.5,281.4 L156.0,281.4 L156.5,281.4 L157.0,281.5 L157.5,281.6 L158.0,281.6 L158.5,281.5 L159.0,281.4 L159.5,281.2 L160.0,281.0 L160.5,280.9 L161.0,280.8 L161.5,280.8 L162.0,280.8 L162.5,280.9 L163.0,280.9 L163.5,280.8 L164.0,280.7 L164.5,280.7 L165.0,280.6 L165.5,280.5 L166.0,280.6 L166.5,280.8 L167.0,281.1 L167.5,281.4 L168.0,281.6 L168.5,281.6 L169.0,281.5 L169.5,281.3 L170.0,281.0 L170.5,280.8 L171.0,280.6 L171.5,280.6 L172.0,280.7 L172.5,280.9 L173.0,281.1 L173.5,281.3 L174.0,281.4 L174.5,281.6 L175.0,281.8 L175.5,281.9 L176.0,282.0 L176.5,282.0 L177.0,281.9 L177.5,281.9 L178.0,281.9 L178.5,281.8 L179.0,281.8 L179.5,281.9 L180.0,281.9 L180.5,281.8 L181.0,281.6 L181.5,281.3 L182.0,280.9 L182.5,280.6 L183.0,280.3 L183.5,280.2 L184.0,280.3 L184.5,280.6 L185.0,280.9 L185.5,281.2 L186.0,281.5 L186.5,281.8 L187.0,282.0 L187.5,282.0 L188.0,282.1 L188.5,282.0 L189.0,282.0 L189.5,281.9 L190.0,281.8 L190.5,281.7 L191.0,281.5 L191.5,281.4 L192.0,281.4 L192.5,281.4 L193.0,281.3 L193.5,281.3 L194.0,281.2 L194.5,281.1 L195.0,281.1 L195.5,281.1 L196.0,281.1 L196.5,281.3 L197.0,281.6 L197.5,282.1 L198.0,282.6 L198.5,283.0 L199.0,283.4 L199.5,283.6 L200.0,283.7 L200.5,283.7 L201.0,283.6 L201.5,283.5 L202.0,283.6 L202.5,283.8 L203.0,284.1 L203.5,284.5 L204.0,284.9 L204.5,285.2 L205.0,285.2 L205.5,285.2 L206.0,284.9 L206.5,284.5 L207.0,284.0 L207.5,283.4 L208.0,282.6 L208.5,281.8 L209.0,281.0 L209.5,280.2 L210.0,279.3 L210.5,278.5 L211.0,277.6 L211.5,276.8 L212.0,276.1 L212.5,275.2 L213.0,274.2 L213.5,272.8 L214.0,270.9 L214.5,268.5 L215.0,265.3 L215.5,261.4 L216.0,256.9 L216.5,252.3 L217.0,248.0 L217.5,245.0 L218.0,246.0 L218.5,249.2 L219.0,253.2 L219.5,257.3 L220.0,261.1 L220.5,264.4 L221.0,267.1 L221.5,269.2 L222.0,270.8 L222.5,272.0 L223.0,272.9 L223.5,273.5 L224.0,274.0 L224.5,274.5 L225.0,275.1 L225.5,275.7 L226.0,276.2 L226.5,276.7 L227.0,277.1 L227.5,277.4 L228.0,277.8 L228.5,278.2 L229.0,278.7 L229.5,279.1 L230.0,279.6 L230.5,280.1 L231.0,280.5 L231.5,280.7 L232.0,280.9 L232.5,281.0 L233.0,281.0 L233.5,280.9 L234.0,280.9 L234.5,280.8 L235.0,280.7 L235.5,280.4 L236.0,280.1 L236.5,279.7 L237.0,279.3 L237.5,279.0 L238.0,278.8 L238.5,278.7 L239.0,278.7 L239.5,278.8 L240.0,279.0 L240.5,279.3 L241.0,279.7 L241.5,280.1 L242.0,280.6 L242.5,281.0 L243.0,281.4 L243.5,281.7 L244.0,281.8 L244.5,281.7 L245.0,281.6 L245.5,281.4 L246.0,281.4 L246.5,281.4 L247.0,281.5 L247.5,281.8 L248.0,282.0 L248.5,282.2 L249.0,282.2 L249.5,282.3 L250.0,282.3 L250.5,282.3 L251.0,282.3 L251.5,282.3 L252.0,282.2 L252.5,282.2 L253.0,282.1 L253.5,282.1 L254.0,282.0 L254.5,281.9 L255.0,281.8 L255.5,281.9 L256.0,282.0 L256.5,282.1 L257.0,282.2 L257.5,282.4 L258.0,282.6 L258.5,282.9 L259.0,283.2 L259.5,283.5 L260.0,283.9 L260.5,284.2 L261.0,284.4 L261.5,284.6 L262.0,284.7 L262.5,284.7 L263.0,284.7 L263.5,284.7 L264.0,284.7 L264.5,284.6 L265.0,284.4 L265.5,284.1 L266.0,283.6 L266.5,283.0 L267.0,282.2 L267.5,281.3 L268.0,280.5 L268.5,279.8 L269.0,279.2 L269.5,278.8 L270.0,278.5 L270.5,278.4 L271.0,278.4 L271.5,278.4 L272.0,278.6 L272.5,278.7 L273.0,278.9 L273.5,279.0 L274.0,279.1 L274.5,279.2 L275.0,279.4 L275.5,279.5 L276.0,279.7 L276.5,280.0 L277.0,280.3 L277.5,280.7 L278.0,281.0 L278.5,281.3 L279.0,281.5 L279.5,281.6 L280.0,281.6 L280.5,281.7 L281.0,281.8 L281.5,281.9 L282.0,282.1 L282.5,282.2 L283.0,282.2 L283.5,282.2 L284.0,282.3 L284.5,282.3 L285.0,282.3 L285.5,282.4 L286.0,282.5 L286.5,282.6 L287.0,282.6 L287.5,282.5 L288.0,282.3 L288.5,281.9 L289.0,281.5 L289.5,281.0 L290.0,280.5 L290.5,280.0 L291.0,279.5 L291.5,279.0 L292.0,278.7 L292.5,278.4 L293.0,278.3 L293.5,278.3 L294.0,278.5 L294.5,278.8 L295.0,279.2 L295.5,279.6 L296.0,279.9 L296.5,280.1 L297.0,280.1" fill="none" stroke="#4592f5" stroke-width="1.5"/>
<text transform="translate(121.9,256.5) rotate(-90)" text-anchor="middle" font-size="8.33" font-weight="bold">Signal intensity (a.u)</text>
<text x="190" y="312.6" text-anchor="middle" font-size="7.2" font-weight="bold" >184</text>
<text x="244" y="311.3" text-anchor="middle" font-size="7.2" font-weight="bold" >183.9</text>
<text x="219.5" y="323" text-anchor="middle" font-size="8.33" font-weight="bold" >chemical shift (ppm)</text>
<text x="214.6" y="230.7" text-anchor="middle" font-size="7.9" font-weight="normal" fill="#222">Glutamate</text>
<line x1="331" y1="234.6" x2="355.4" y2="234.6" stroke="#1414ff" stroke-width="1.9"/>
<line x1="331" y1="244.6" x2="355.4" y2="244.6" stroke="#ff1414" stroke-width="1.9"/>
<text x="374.3" y="236.3" text-anchor="middle" font-size="7.2" font-weight="bold" >Isotype</text>
<text x="376" y="245.8" text-anchor="middle" font-size="7.2" font-weight="bold" >Anti-PD1</text>
<text x="115.7" y="362.6" text-anchor="start" font-size="13.2" font-weight="bold" >D</text>
<rect x="155.00" y="423.70" width="8.80" height="50.70" fill="#a0a0f7" stroke="#4a4af2" stroke-width="1.0"/>
<line x1="159.4" y1="413.2" x2="159.4" y2="423.2" stroke="#222" stroke-width="0.9"/>
<line x1="156.8" y1="413.2" x2="162.0" y2="413.2" stroke="#222" stroke-width="0.9"/>
<rect x="168.30" y="420.64" width="9.10" height="53.76" fill="#f79c9c" stroke="#f05a5a" stroke-width="1.0"/>
<line x1="172.9" y1="410.1" x2="172.9" y2="420.1" stroke="#222" stroke-width="0.9"/>
<line x1="170.3" y1="410.1" x2="175.5" y2="410.1" stroke="#222" stroke-width="0.9"/>
<rect x="191.35" y="467.50" width="7.60" height="6.90" fill="#8a8afa" stroke="#2424f6" stroke-width="1.7"/>
<line x1="195.2" y1="463.4" x2="195.2" y2="466.6" stroke="#222" stroke-width="0.9"/>
<line x1="192.6" y1="463.4" x2="197.8" y2="463.4" stroke="#222" stroke-width="0.9"/>
<rect x="204.85" y="469.13" width="7.70" height="5.27" fill="#fa8a8a" stroke="#f52424" stroke-width="1.7"/>
<line x1="208.7" y1="466.6" x2="208.7" y2="468.3" stroke="#222" stroke-width="0.9"/>
<line x1="206.1" y1="466.6" x2="211.3" y2="466.6" stroke="#222" stroke-width="0.9"/>
<rect x="227.05" y="470.66" width="7.70" height="3.74" fill="#4a4afa" stroke="#2020f6" stroke-width="1.5"/>
<line x1="230.9" y1="469.1" x2="230.9" y2="469.9" stroke="#222" stroke-width="0.9"/>
<line x1="228.3" y1="469.1" x2="233.5" y2="469.1" stroke="#222" stroke-width="0.9"/>
<rect x="240.25" y="470.46" width="7.90" height="3.94" fill="#fa4a4a" stroke="#f52020" stroke-width="1.5"/>
<line x1="244.2" y1="468.9" x2="244.2" y2="469.7" stroke="#222" stroke-width="0.9"/>
<line x1="241.6" y1="468.9" x2="246.8" y2="468.9" stroke="#222" stroke-width="0.9"/>
<circle cx="159.4" cy="386" r="1.2" fill="#000"/>
<circle cx="159.3" cy="424.3" r="1.2" fill="#000"/>
<circle cx="159.6" cy="428.8" r="1.2" fill="#000"/>
<circle cx="159.4" cy="431.8" r="1.2" fill="#000"/>
<circle cx="159.5" cy="446.3" r="1.2" fill="#000"/>
<circle cx="172.9" cy="403.2" r="1.2" fill="#000"/>
<circle cx="172.7" cy="405.8" r="1.2" fill="#000"/>
<circle cx="172.9" cy="410.2" r="1.2" fill="#000"/>
<circle cx="172.8" cy="422.8" r="1.2" fill="#000"/>
<circle cx="172.8" cy="457.5" r="1.2" fill="#000"/>
<circle cx="195" cy="456" r="1.2" fill="#000"/>
<circle cx="193.2" cy="467.5" r="0.85" fill="#000"/>
<circle cx="196.8" cy="467.8" r="0.85" fill="#000"/>
<circle cx="193.5" cy="471" r="0.85" fill="#000"/>
<circle cx="196.5" cy="471.2" r="0.85" fill="#000"/>
<circle cx="207" cy="466.3" r="0.85" fill="#000"/>
<circle cx="210.5" cy="466" r="0.85" fill="#000"/>
<circle cx="208.7" cy="468.5" r="0.85" fill="#000"/>
<circle cx="206.6" cy="470.5" r="0.85" fill="#000"/>
<circle cx="210.8" cy="471" r="0.85" fill="#000"/>
<circle cx="228.6" cy="469.6" r="0.85" fill="#000"/>
<circle cx="233" cy="469.0" r="0.85" fill="#000"/>
<circle cx="230.2" cy="470.2" r="0.85" fill="#000"/>
<circle cx="231.6" cy="470.6" r="0.85" fill="#000"/>
<circle cx="234.2" cy="470.4" r="0.85" fill="#000"/>
<circle cx="241.6" cy="469.2" r="0.85" fill="#000"/>
<circle cx="243.8" cy="469.6" r="0.85" fill="#000"/>
<circle cx="245.6" cy="469.8" r="0.85" fill="#000"/>
<circle cx="247.2" cy="470.2" r="0.85" fill="#000"/>
<circle cx="244.6" cy="471.0" r="0.85" fill="#000"/>
<line x1="150.8" y1="371.6" x2="150.8" y2="475.0" stroke="#222" stroke-width="1.4"/>
<line x1="150.1" y1="474.4" x2="253" y2="474.4" stroke="#222" stroke-width="1.5"/>
<line x1="146" y1="474.4" x2="150.8" y2="474.4" stroke="#222" stroke-width="1.3"/>
<text x="144.6" y="477.1" text-anchor="end" font-size="7.5" font-weight="bold" >0.00</text>
<line x1="146" y1="454.0" x2="150.8" y2="454.0" stroke="#222" stroke-width="1.3"/>
<text x="144.6" y="456.7" text-anchor="end" font-size="7.5" font-weight="bold" >0.01</text>
<line x1="146" y1="433.6" x2="150.8" y2="433.6" stroke="#222" stroke-width="1.3"/>
<text x="144.6" y="436.3" text-anchor="end" font-size="7.5" font-weight="bold" >0.02</text>
<line x1="146" y1="413.2" x2="150.8" y2="413.2" stroke="#222" stroke-width="1.3"/>
<text x="144.6" y="415.9" text-anchor="end" font-size="7.5" font-weight="bold" >0.03</text>
<line x1="146" y1="392.8" x2="150.8" y2="392.8" stroke="#222" stroke-width="1.3"/>
<text x="144.6" y="395.5" text-anchor="end" font-size="7.5" font-weight="bold" >0.04</text>
<line x1="146" y1="372.4" x2="150.8" y2="372.4" stroke="#222" stroke-width="1.3"/>
<text x="144.6" y="375.1" text-anchor="end" font-size="7.5" font-weight="bold" >0.05</text>
<line x1="159.4" y1="474.4" x2="159.4" y2="479" stroke="#222" stroke-width="1.3"/>
<line x1="172.7" y1="474.4" x2="172.7" y2="479" stroke="#222" stroke-width="1.3"/>
<line x1="195.1" y1="474.4" x2="195.1" y2="479" stroke="#222" stroke-width="1.3"/>
<line x1="208.5" y1="474.4" x2="208.5" y2="479" stroke="#222" stroke-width="1.3"/>
<line x1="230.8" y1="474.4" x2="230.8" y2="479" stroke="#222" stroke-width="1.3"/>
<line x1="244.2" y1="474.4" x2="244.2" y2="479" stroke="#222" stroke-width="1.3"/>
<text transform="translate(124.4,422.5) rotate(-90)" text-anchor="middle" font-size="8.2" font-weight="bold">AUC (a.u)</text>
<text transform="translate(162.5,486.0) rotate(-45)" text-anchor="end" font-size="7.6" font-weight="bold">Isotype</text>
<text transform="translate(175.79999999999998,486.0) rotate(-45)" text-anchor="end" font-size="7.6" font-weight="bold">AntiPD1</text>
<text transform="translate(198.2,486.0) rotate(-45)" text-anchor="end" font-size="7.6" font-weight="bold">Isotype</text>
<text transform="translate(211.6,486.0) rotate(-45)" text-anchor="end" font-size="7.6" font-weight="bold">AntiPD1</text>
<text transform="translate(233.9,486.0) rotate(-45)" text-anchor="end" font-size="7.6" font-weight="bold">Isotype</text>
<text transform="translate(247.29999999999998,486.0) rotate(-45)" text-anchor="end" font-size="7.6" font-weight="bold">AntiPD1</text>
<text x="157" y="369.3" font-size="6.7" font-weight="normal" fill="#222"><tspan font-size="4.0" dy="-2.4">13</tspan><tspan dy="2.4">C-lactate</tspan></text>
<text x="185.6" y="433.2" font-size="6.55" font-weight="normal" fill="#222"><tspan font-size="3.9" dy="-2.4">13</tspan><tspan dy="2.4">C-alanine</tspan></text>
<text x="221.2" y="433.4" font-size="6.7" font-weight="normal" fill="#222"><tspan font-size="4.0" dy="-2.4">13</tspan><tspan dy="2.4">C-glutamate</tspan></text>
<text x="164.8" y="377.7" text-anchor="middle" font-size="8.2" font-weight="normal" fill="#111">ns</text>
<line x1="157" y1="380.2" x2="173" y2="380.2" stroke="#333" stroke-width="0.9"/>
<text x="201.3" y="449.7" text-anchor="middle" font-size="8.2" font-weight="normal" fill="#111">ns</text>
<line x1="194.5" y1="452.5" x2="208.8" y2="452.5" stroke="#333" stroke-width="0.9"/>
<text x="237.2" y="449.3" text-anchor="middle" font-size="8.2" font-weight="normal" fill="#111">ns</text>
<line x1="230" y1="452.4" x2="244.5" y2="452.4" stroke="#333" stroke-width="0.9"/>
</svg>
</body>
</html>
